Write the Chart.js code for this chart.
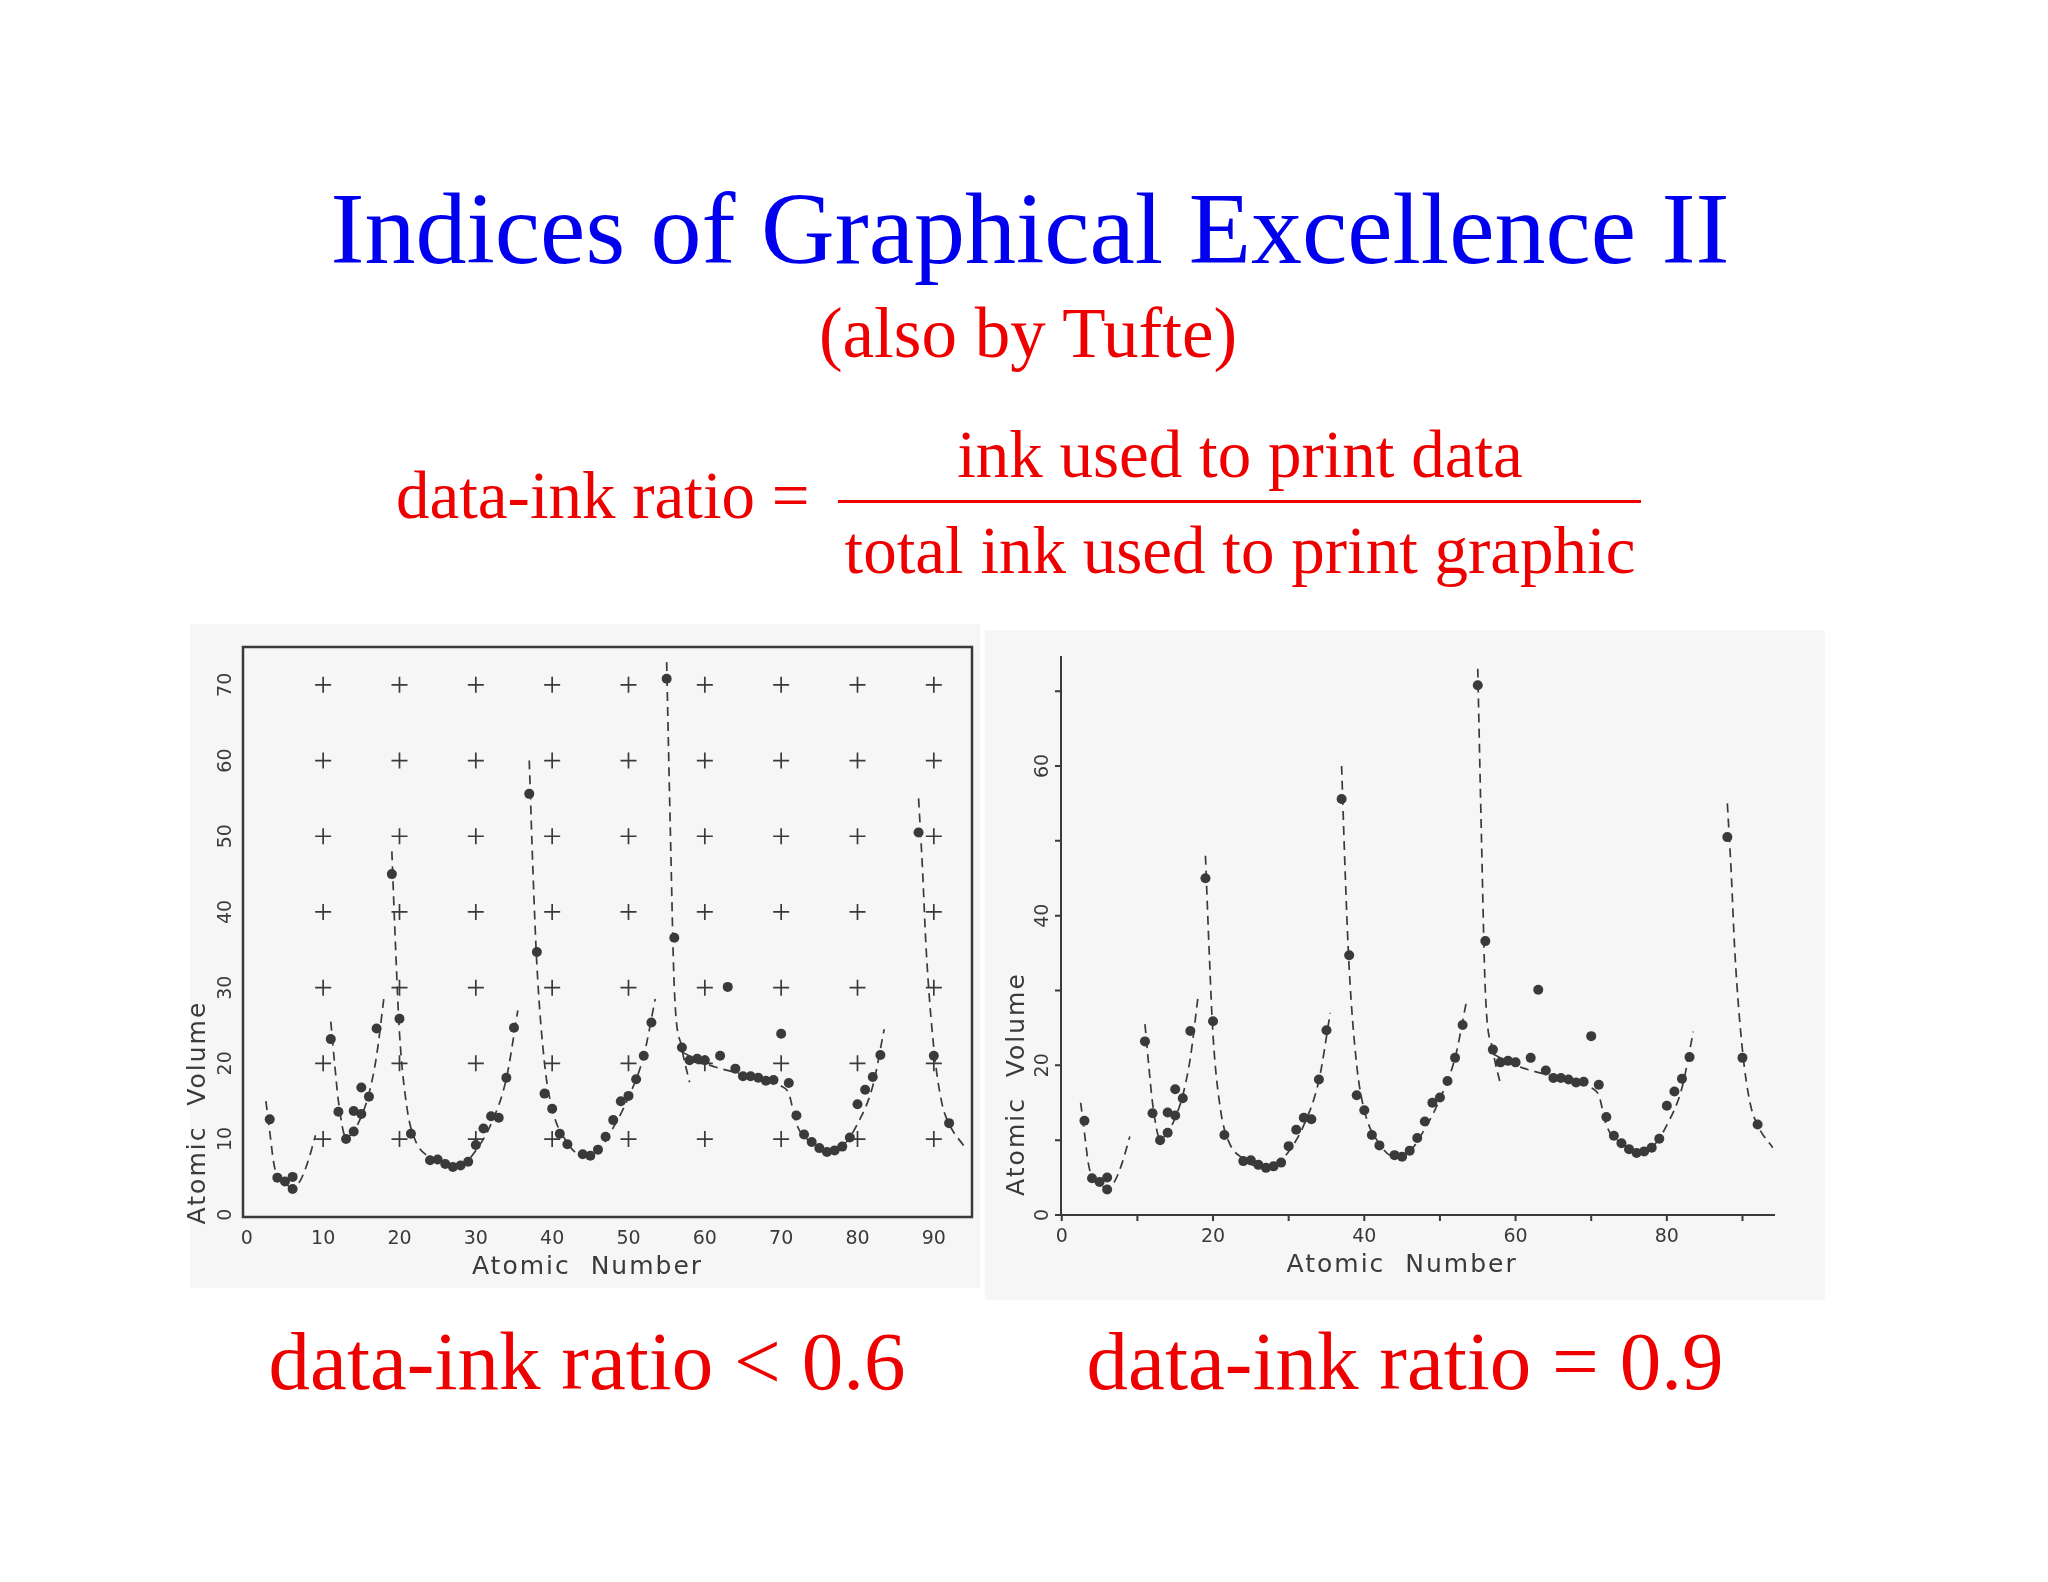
<!DOCTYPE html>
<html>
<head>
<meta charset="utf-8">
<script src="https://cdn.jsdelivr.net/npm/chart.js@4"></script>
<style>
  body { margin: 0; width: 2048px; height: 1582px; background: #fff; position: relative; overflow: hidden; font-family: "Liberation Serif", "DejaVu Serif", serif; }
  .t { position: absolute; white-space: nowrap; line-height: 1; }
  .bg { position: absolute; background: #f6f6f6; }
  canvas { position: absolute; }
</style>
</head>
<body>
<div class="t" style="left:0;width:2060px;text-align:center;top:178px;font-size:102px;color:#0000ee;">Indices of Graphical Excellence II</div>
<div class="t" style="left:0;width:2056px;text-align:center;top:298px;font-size:71px;color:#ee0000;">(also by Tufte)</div>
<div class="t" style="left:396px;top:462px;font-size:67px;color:#ee0000;">data-ink ratio =</div>
<div class="t" style="left:840px;width:800px;text-align:center;top:421px;font-size:67px;color:#ee0000;">ink used to print data</div>
<div style="position:absolute;left:838px;top:500px;width:803px;height:3px;background:#ee0000;"></div>
<div class="t" style="left:840px;width:800px;text-align:center;top:517px;font-size:67px;color:#ee0000;">total ink used to print graphic</div>
<div class="t" style="left:187px;width:800px;text-align:center;top:1320px;font-size:83px;color:#ee0000;">data-ink ratio &lt; 0.6</div>
<div class="t" style="left:1005px;width:800px;text-align:center;top:1320px;font-size:83px;color:#ee0000;">data-ink ratio = 0.9</div>

<div class="bg" style="left:190px;top:624px;width:790px;height:664px;"></div>
<div class="bg" style="left:985px;top:630px;width:840px;height:670px;"></div>
<canvas id="left" style="left:150px;top:620px;width:850px;height:680px;" width="850" height="680"></canvas>
<canvas id="right" style="left:1000px;top:620px;width:830px;height:680px;" width="830" height="680"></canvas>

<script>
// measured atomic volumes
const atomicNumber = [3,4,5,6,6,11,12,13,14,14,15,15,16,17,19,20,21.5,24,25,26,27,28,29,30,31,32,33,34,35,37,38,39,40,41,42,44,45,46,47,48,49,50,51,52,53,55,56,57,58,59,60,62,63,64,65,66,67,68,69,70,71,72,73,74,75,76,77,78,79,80,81,82,83,88,90,92];
const atomicVolume = [12.6,4.9,4.4,3.4,5.0,23.2,13.6,10,11,13.7,13.3,16.8,15.6,24.6,45,25.9,10.7,7.2,7.3,6.7,6.3,6.5,7.0,9.2,11.4,13,12.8,18.1,24.7,55.6,34.7,16,14,10.7,9.3,8,7.8,8.6,10.3,12.5,15,15.7,17.9,21,25.4,70.8,36.6,22.1,20.4,20.6,20.4,21,30.1,19.3,18.3,18.3,18.1,17.7,17.8,23.9,17.4,13.1,10.6,9.6,8.8,8.3,8.5,9.0,10.2,14.6,16.5,18.2,21.1,50.5,21.0,12.1];

// hand-drawn dashed trend, one list per period
const curveX = [
  [2.5,3,3.5,4,5,6,7,8,9],
  [11,11.5,12,13,14,15,16,17,18],
  [19,19.5,20,21,22,24,26,28,30,32,34,35.5],
  [37,37.5,38,39,40,42,44,46,48,50,52,53.5],
  [55,55.5,56,57,58],
  [57,60,65,70,71,72,74,76,78,80,82,83.5],
  [88,88.5,89,90,91,92,94]
];
const curveY = [
  [15,11,7,5,4.2,3.5,4.5,7,10.5],
  [25.5,20,15,10.2,11,13,16,21,29],
  [48,35,24,14,10,7.5,6.5,6.5,8.5,12,18,27],
  [60,45,33,20,14,9.5,7.8,8.5,11.5,15.5,21,28.5],
  [73,50,30,22,17.5],
  [21.5,20,18.5,17,16,12,9.5,8.2,9,12,17,24.5],
  [55,46,35,22,15,12,9]
];

// grid crosses on the original chart
const crossX = [10,20,30,40,50,60,70,80,90];
const crossY = [10,20,30,40,50,60,70];

const ink = '#3a3a3a';
const handFont = '"DejaVu Sans", sans-serif';

function pts(xs, ys) { return xs.map((x, i) => ({ x: x, y: ys[i] })); }

function buildDatasets(withCrosses) {
  const ds = [];
  curveX.forEach((xs, i) => {
    ds.push({
      data: pts(xs, curveY[i]), showLine: true, borderColor: ink, borderWidth: 1.7,
      borderDash: [9, 6], pointRadius: 0, cubicInterpolationMode: 'monotone', fill: false
    });
  });
  ds.push({ data: pts(atomicNumber, atomicVolume), pointRadius: 5, backgroundColor: ink, borderWidth: 0 });
  if (withCrosses) {
    const c = [];
    crossX.forEach(x => crossY.forEach(y => c.push({ x: x, y: y })));
    ds.push({ data: c, pointStyle: 'cross', pointRadius: 8, borderColor: ink, borderWidth: 1.7 });
  }
  return ds;
}

function textRot(ctx, s, x, y) {
  ctx.save(); ctx.translate(x, y); ctx.rotate(-Math.PI / 2);
  ctx.fillText(s, 0, 0); ctx.restore();
}

const decoLeft = {
  id: 'decoLeft',
  afterDraw(chart) {
    const { ctx, chartArea: a, scales: { x, y } } = chart;
    ctx.save();
    ctx.strokeStyle = ink; ctx.lineWidth = 2.5;
    ctx.strokeRect(a.left, a.top, a.right - a.left, a.bottom - a.top);
    ctx.fillStyle = ink; ctx.font = '19px ' + handFont;
    ctx.textAlign = 'center'; ctx.textBaseline = 'middle';
    for (let v = 0; v <= 90; v += 10) ctx.fillText(String(v), x.getPixelForValue(v), a.bottom + 22);
    for (let v = 0; v <= 70; v += 10) textRot(ctx, String(v), a.left - 17, y.getPixelForValue(v));
    ctx.font = '25px ' + handFont;
    ctx.letterSpacing = '2px';
    ctx.fillText('Atomic  Number', (a.left + a.right) / 2 - 20, a.bottom + 50);
    textRot(ctx, 'Atomic  Volume', a.left - 45, y.getPixelForValue(13.5));
    ctx.restore();
  }
};

const decoRight = {
  id: 'decoRight',
  afterDraw(chart) {
    const { ctx, chartArea: a, scales: { x, y } } = chart;
    ctx.save();
    ctx.strokeStyle = ink; ctx.lineWidth = 2;
    ctx.beginPath();
    ctx.moveTo(a.left, a.top); ctx.lineTo(a.left, a.bottom); ctx.lineTo(a.right, a.bottom);
    for (let v = 0; v <= 90; v += 10) { const px = x.getPixelForValue(v); ctx.moveTo(px, a.bottom); ctx.lineTo(px, a.bottom + 6); }
    for (let v = 0; v <= 70; v += 10) { const py = y.getPixelForValue(v); ctx.moveTo(a.left, py); ctx.lineTo(a.left - 6, py); }
    ctx.stroke();
    ctx.fillStyle = ink; ctx.font = '19px ' + handFont;
    ctx.textAlign = 'center'; ctx.textBaseline = 'middle';
    for (let v = 0; v <= 80; v += 20) ctx.fillText(String(v), x.getPixelForValue(v), a.bottom + 22);
    for (let v = 0; v <= 60; v += 20) textRot(ctx, String(v), a.left - 18, y.getPixelForValue(v));
    ctx.font = '25px ' + handFont;
    ctx.letterSpacing = '2px';
    ctx.fillText('Atomic  Number', x.getPixelForValue(45), a.bottom + 50);
    textRot(ctx, 'Atomic  Volume', a.left - 44, y.getPixelForValue(17.5));
    ctx.restore();
  }
};

function makeChart(id, withCrosses, xr, yr, pad, deco) {
  new Chart(document.getElementById(id), {
    type: 'scatter',
    data: { datasets: buildDatasets(withCrosses) },
    options: {
      responsive: false, animation: false,
      layout: { padding: pad },
      plugins: { legend: { display: false }, tooltip: { enabled: false } },
      scales: {
        x: { type: 'linear', min: xr[0], max: xr[1], display: false },
        y: { type: 'linear', min: yr[0], max: yr[1], display: false }
      }
    },
    plugins: [deco]
  });
}

makeChart('left', true, [-0.5, 95], [-0.3, 75], { left: 93, right: 28, top: 27, bottom: 83 }, decoLeft);
makeChart('right', false, [-0.1, 94.3], [0, 74.7], { left: 61, right: 55, top: 36, bottom: 85 }, decoRight);
</script>
</body>
</html>
